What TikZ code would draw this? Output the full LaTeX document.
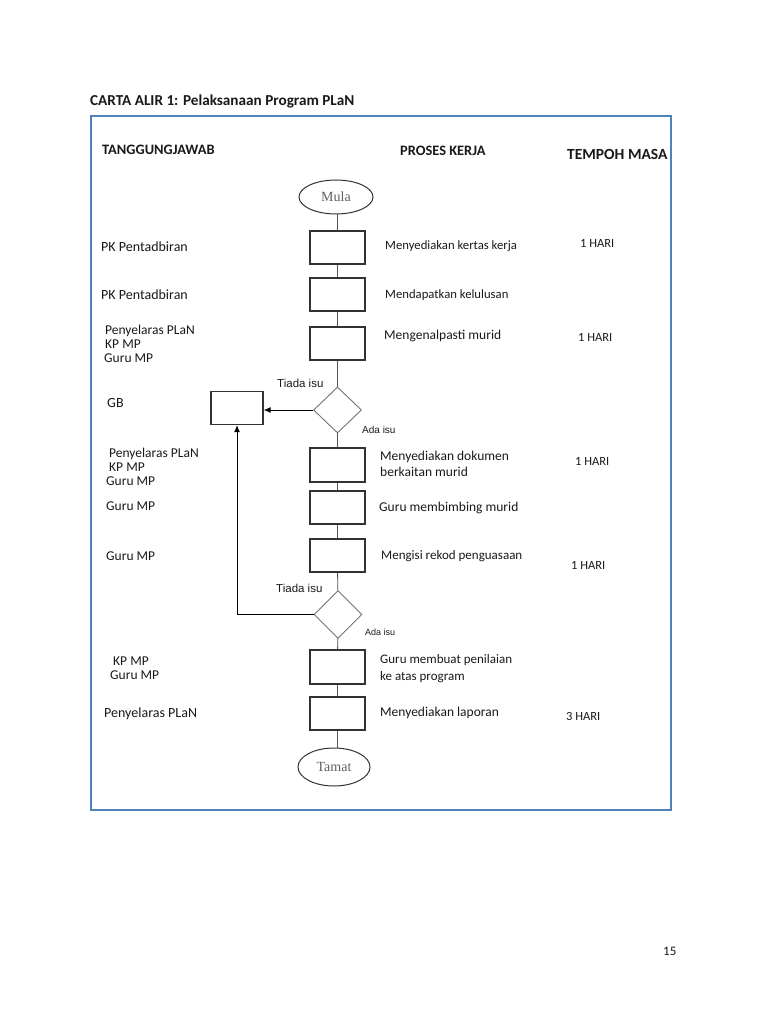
\documentclass[tikz,border=0pt]{standalone}
\usepackage{fontspec}
\setmainfont{Carlito}
\newfontfamily\arialf{Liberation Sans}
\newfontfamily\timesf{Liberation Serif}
\usetikzlibrary{shapes.geometric,arrows.meta}
\definecolor{frameblue}{RGB}{79,129,189}
\definecolor{ink}{RGB}{25,25,25}
\definecolor{boxline}{RGB}{50,50,50}
\begin{document}
\begin{tikzpicture}[x=1pt,y=-1pt,
  lbl/.style={anchor=west,inner sep=0pt,font=\fontsize{14}{14}\selectfont,text=ink,align=left},
  rlbl/.style={anchor=west,inner sep=0pt,font=\fontsize{13}{16.5}\selectfont,text=ink,align=left},
  tlbl/.style={anchor=west,inner sep=0pt,font=\fontsize{12.5}{14}\selectfont,text=ink},
  hdr/.style={anchor=west,inner sep=0pt,font=\bfseries\fontsize{14.4}{16}\selectfont,text=ink},
  procbox/.style={draw=boxline,line width=1.2pt,minimum width=55pt,minimum height=33pt,inner sep=0pt},
  dec/.style={draw=gray!90!black,line width=0.9pt,diamond,minimum width=48pt,minimum height=46pt,inner sep=0pt},
  term/.style={ellipse,draw=boxline,line width=1pt,inner sep=0pt,font=\timesf\fontsize{14}{14}\selectfont,text=gray!75!black},
  conn/.style={draw=gray!65!black,line width=0.9pt},
  arr/.style={draw=black,line width=1pt,-{Latex[length=7pt,width=6pt]}},
  isu/.style={anchor=west,inner sep=0pt,font=\arialf\fontsize{11.5}{12}\selectfont,text=ink}
]
\useasboundingbox (0,0) rectangle (768,1024);

% title and frame
\node[hdr,font=\bfseries\fontsize{15.2}{16}\selectfont] (title) at (90,101) {CARTA ALIR 1: Pelaksanaan Program PLaN};
\draw[frameblue,line width=2pt] (91,116) rectangle (671,810);

% headers
\node[hdr] (h1) at (102,150) {TANGGUNGJAWAB};
\node[hdr] (h2) at (400,151) {PROSES KERJA};
\node[hdr,font=\bfseries\fontsize{15.5}{16}\selectfont] (h3) at (567,154) {TEMPOH MASA};

% flow nodes
\node[term,minimum width=74pt,minimum height=34pt] (mula) at (336,197) {Mula};
\node[procbox] (b1) at (337.5,247.5) {};
\node[procbox] (b2) at (337.5,294.5) {};
\node[procbox] (b3) at (337.5,343.5) {};
\node[dec] (d1) at (337.5,410) {};
\node[procbox,minimum width=52pt] (gb) at (237,408) {};
\node[procbox,minimum height=34pt] (b4) at (337.5,465) {};
\node[procbox] (b5) at (337.5,507.5) {};
\node[procbox] (b6) at (337.5,555.5) {};
\node[dec,minimum height=48pt] (d2) at (338,614.5) {};
\node[procbox,minimum height=34pt] (b7) at (337.5,667) {};
\node[procbox] (b8) at (337.5,713.5) {};
\node[term,minimum width=72pt,minimum height=38pt] (tamat) at (334,767) {Tamat};

% connectors
\draw[conn] (b1.north) -- (b1.north |- mula.south);
\draw[conn] (b1) -- (b2);
\draw[conn] (b2) -- (b3);
\draw[conn] (b3) -- (d1);
\draw[conn] (d1) -- (b4);
\draw[conn] (b4) -- (b5);
\draw[conn] (b5) -- (b6);
\draw[conn] (b6) -- (d2);
\draw[conn] (d2) -- (b7);
\draw[conn] (b7) -- (b8);
\draw[conn] (b8.south) -- (b8.south |- tamat.north);
\draw[arr] (d1.west) -- (d1.west -| gb.east);
\draw[conn,draw=black] (d2.west) -- (d2.west -| gb.south);
\draw[arr] (d2.west -| gb.south) -- (gb.south);

% decision labels
\node[isu] (ti1) at (277,383) {Tiada isu};
\node[isu,font=\arialf\fontsize{10}{12}\selectfont] (ai1) at (362,430) {Ada isu};
\node[isu] (ti2) at (276,588) {Tiada isu};
\node[isu,font=\arialf\fontsize{9}{12}\selectfont] (ai2) at (365,632) {Ada isu};

% responsibility column
\node[lbl] (r1) at (101,247) {PK Pentadbiran};
\node[lbl] (r2) at (101,295) {PK Pentadbiran};
\node[lbl,font=\fontsize{13.5}{14}\selectfont] (r3) at (104,344) {\hspace*{1pt}Penyelaras PLaN\\\hspace*{1pt}KP MP\\Guru MP};
\node[lbl] (r4) at (107,403) {GB};
\node[lbl,font=\fontsize{13.5}{14}\selectfont] (r5) at (106,467) {\hspace*{3pt}Penyelaras PLaN\\\hspace*{3pt}KP MP\\Guru MP};
\node[lbl,font=\fontsize{13.5}{14}\selectfont] (r6) at (106,506) {Guru MP};
\node[lbl,font=\fontsize{13.5}{14}\selectfont] (r7) at (106,556) {Guru MP};
\node[lbl,font=\fontsize{13.5}{14}\selectfont] (r8) at (110,668.5) {\hspace*{3pt}KP MP\\Guru MP};
\node[lbl] (r9) at (104,714) {Penyelaras PLaN};

% process column
\node[rlbl,font=\fontsize{12.7}{14}\selectfont] (p1) at (385,246) {Menyediakan kertas kerja};
\node[rlbl,font=\fontsize{12.7}{14}\selectfont] (p2) at (385,295) {Mendapatkan kelulusan};
\node[rlbl,font=\fontsize{13.5}{14}\selectfont] (p3) at (384,336) {Mengenalpasti murid};
\node[rlbl,font=\fontsize{13.5}{16.5}\selectfont] (p4) at (380,464) {Menyediakan dokumen\\berkaitan murid};
\node[rlbl,font=\fontsize{13.5}{14}\selectfont] (p5) at (379,508) {Guru membimbing murid};
\node[rlbl] (p6) at (381,556) {Mengisi rekod penguasaan};
\node[rlbl] (p7) at (380,668.5) {Guru membuat penilaian\\ke atas program};
\node[rlbl,font=\fontsize{13.5}{14}\selectfont] (p8) at (380,713) {Menyediakan laporan};

% time column
\node[tlbl] (t1) at (580,243) {1 HARI};
\node[tlbl] (t2) at (578,337) {1 HARI};
\node[tlbl] (t3) at (575,461) {1 HARI};
\node[tlbl] (t4) at (571,565) {1 HARI};
\node[tlbl] (t5) at (566,716) {3 HARI};

% page number
\node[tlbl,font=\fontsize{13}{14}\selectfont] (pg) at (663,951) {15};
\end{tikzpicture}
\end{document}
